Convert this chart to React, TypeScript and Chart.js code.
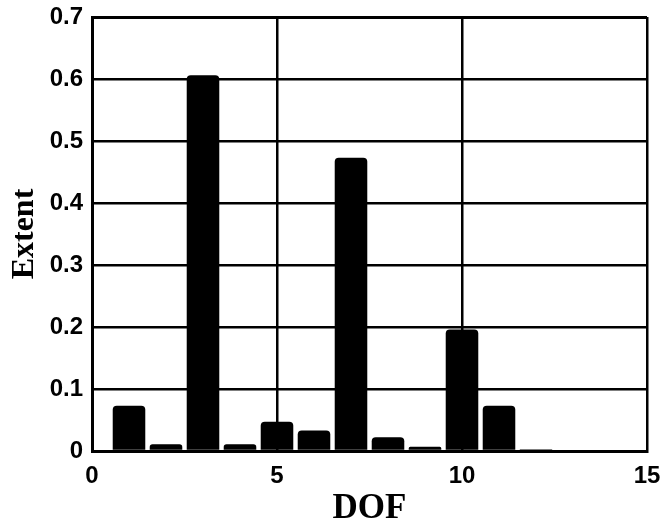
import React, { useEffect, useRef } from "react";
import { Chart, registerables } from "chart.js";

Chart.register(...registerables);

const dofValues = [1, 2, 3, 4, 5, 6, 7, 8, 9, 10, 11, 12];
const extentValues = [0.073, 0.011, 0.606, 0.011, 0.047, 0.033, 0.473, 0.022, 0.007, 0.196, 0.073, 0.003];
const xTickValues = [0, 5, 10, 15];
const yTickValues = [0, 0.1, 0.2, 0.3, 0.4, 0.5, 0.6, 0.7];

export default function App() {
  const ref = useRef<HTMLCanvasElement | null>(null);

  useEffect(() => {
    document.body.style.margin = "0";
    const canvas = ref.current;
    if (!canvas) return;
    const chart = new Chart(canvas, {
      type: "bar",
      data: {
        datasets: [
          {
            data: dofValues.map((x, i) => ({ x, y: extentValues[i] })),
            backgroundColor: "#000",
            borderWidth: 0,
            borderRadius: 4,
            borderSkipped: "bottom",
            barPercentage: 0.88,
            categoryPercentage: 1,
          },
        ],
      },
      options: {
        animation: false,
        responsive: false,
        devicePixelRatio: 1,
        layout: { padding: { top: 17, right: 24, left: 0, bottom: 0 } },
        plugins: { legend: { display: false }, tooltip: { enabled: false } },
        scales: {
          x: {
            type: "linear",
            min: 0,
            max: 15,
            offset: false,
            afterFit: (s: any) => {
              s.height = 68;
              s.paddingLeft = 0;
              s.paddingRight = 0;
            },
            afterBuildTicks: (s: any) => {
              s.ticks = xTickValues.map((v) => ({ value: v }));
            },
            ticks: {
              color: "#000",
              padding: 11,
              maxRotation: 0,
              font: { family: "Liberation Sans", size: 24, weight: "bold" },
            },
            grid: {
              offset: false,
              color: "#000",
              lineWidth: 2.5,
              drawTicks: false,
            },
            border: { color: "#000", width: 3 },
            title: {
              display: true,
              text: "DOF",
              color: "#000",
              padding: { top: 0, bottom: 0 },
              font: { family: "Liberation Serif", size: 35, weight: "bold", lineHeight: 0.6 },
            },
          },
          y: {
            type: "linear",
            min: 0,
            max: 0.7,
            afterFit: (s: any) => {
              s.width = 92;
              s.paddingTop = 0;
              s.paddingBottom = 0;
            },
            afterBuildTicks: (s: any) => {
              s.ticks = yTickValues.map((v) => ({ value: v }));
            },
            ticks: {
              color: "#000",
              padding: 9,
              font: { family: "Liberation Sans", size: 24, weight: "bold" },
            },
            grid: {
              color: "#000",
              lineWidth: (c: any) => (c.tick && c.tick.value === 0.7 ? 3 : 2.5),
              drawTicks: false,
            },
            border: { color: "#000", width: 3 },
            title: {
              display: true,
              text: "Extent",
              color: "#000",
              padding: { top: 9, bottom: 0 },
              font: { family: "Liberation Serif", size: 32, weight: "bold", lineHeight: 1 },
            },
          },
        },
      },
    });
    return () => chart.destroy();
  }, []);

  return (
    <div style={{ position: "absolute", left: 0, top: 0, width: 671, height: 519 }}>
      <canvas ref={ref} width={671} height={519} style={{ display: "block" }} />
    </div>
  );
}
